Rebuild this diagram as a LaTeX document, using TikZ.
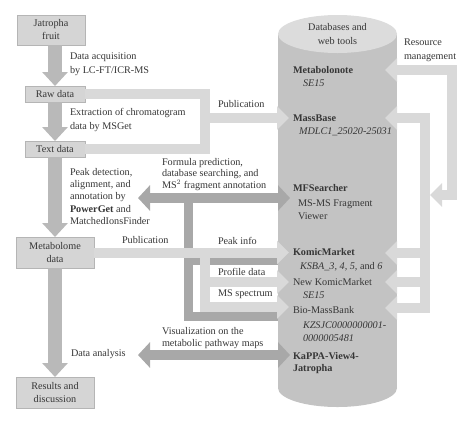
\documentclass[tikz,border=0pt]{standalone}
\usepackage{fontspec}
\setmainfont{Liberation Serif}
\usetikzlibrary{arrows.meta}
\definecolor{txt}{HTML}{363636}
\definecolor{boxfill}{HTML}{D5D5D5}
\definecolor{boxdraw}{HTML}{B5B5B5}
\definecolor{mainarr}{HTML}{B9B9B9}
\definecolor{cylbody}{HTML}{C3C3C3}
\definecolor{cylcap}{HTML}{DCDCDC}
\definecolor{lightc}{HTML}{D9D9D9}
\definecolor{darkc}{HTML}{A8A8A8}
\tikzset{
  stepbox/.style={draw=boxdraw, fill=boxfill, line width=0.8pt, inner sep=0pt, outer sep=0pt,
    align=center, text=txt, font=\fontsize{10.2}{13}\selectfont},
  lbl/.style={inner sep=0pt, outer sep=0pt, text=txt, align=left, anchor=west},
  fs/.style={font=\fontsize{10.2}{#1}\selectfont},
  mainarrow/.style={draw=mainarr, line width=14pt, arrows={-Triangle[length=14pt,width=25pt]}},
  lightband/.style={draw=lightc, line width=10pt, line join=miter},
  darkband/.style={draw=darkc, line width=10pt, line join=miter},
  ltip/.style={arrows={-Triangle[length=12pt,width=23pt]}},
  ltips/.style={arrows={Triangle[length=12pt,width=23pt]-Triangle[length=12pt,width=23pt]}},
  dtips/.style={arrows={Triangle[length=12pt,width=25pt]-Triangle[length=12pt,width=25pt]}},
}
\begin{document}
\begin{tikzpicture}[x=1pt,y=-1pt]
\useasboundingbox (0,0) rectangle (474,424);

% left boxes
\node[stepbox, minimum width=68pt, minimum height=30pt] (fruit) at (51,30) {Jatropha\\fruit};
\node[stepbox, minimum width=60pt, minimum height=16pt] (raw) at (55,94) {Raw data};
\node[stepbox, minimum width=60pt, minimum height=16pt] (text) at (55,149) {Text data};
\node[stepbox, minimum width=78pt, minimum height=31pt] (meta) at (55,252.5) {Metabolome\\data};
\node[stepbox, minimum width=78pt, minimum height=31pt] (results) at (55,392.5) {Results and\\discussion};

% connector coordinates
\coordinate (mbL) at (289,118);
\coordinate (kmL) at (289,252.5);
\coordinate (nkL) at (289,282);
\coordinate (bmL) at (289,307);
\coordinate (mfL) at (290,198);
\coordinate (kvL) at (290,355);
\coordinate (mfW) at (138,198);
\coordinate (kvW) at (138,355);
\coordinate (mnR) at (385,70);
\coordinate (mbR) at (385,118);
\coordinate (kmR) at (385,253);
\coordinate (nkR) at (385,282);
\coordinate (bmR) at (385,308);
\coordinate (pj1) at (205,94);
\coordinate (pj2) at (205,149);
\coordinate (pj3) at (205,118);
\coordinate (lj1) at (205,252);
\coordinate (lj2) at (205,307);
\coordinate (lj3) at (205,282);
\coordinate (dj1) at (188,198);
\coordinate (dj2) at (188,316);
\coordinate (dj3) at (188,261);
\coordinate (kmD) at (280,261);
\coordinate (bmD) at (280,316);
\coordinate (rj1) at (425,118);
\coordinate (rj2) at (425,308);
\coordinate (rj3) at (425,253);
\coordinate (rj4) at (425,282);
\coordinate (rm1) at (452,70);
\coordinate (rm2) at (452,195);
\coordinate (rmT) at (430,195);

% dark bars behind the cylinder
\draw[darkband, line width=9pt] (dj1) -- (dj2) -- (bmD);
\draw[darkband, line width=8pt] (dj3) -- (kmD);

% cylinder
\fill[cylbody] (278,34) rectangle (397,388);
\fill[cylbody] (337.5,388) ellipse [x radius=59.5, y radius=19];
\fill[cylcap] (337.5,34) ellipse [x radius=59.5, y radius=19];

% light connectors
\draw[lightband] (raw.east) -- (pj1) -- (pj2) -- (text.east);
\draw[lightband, ltip] (pj3) -- (mbL);
\draw[lightband, ltip] (meta.east) -- (kmL);
\draw[lightband, ltip] (lj1) -- (lj2) -- (bmL);
\draw[lightband, ltip] (lj3) -- (nkL);
\draw[lightband, ltips] (mbR) -- (rj1) -- (rj2) -- (bmR);
\draw[lightband, ltip] (rj3) -- (kmR);
\draw[lightband, ltip] (rj4) -- (nkR);
\draw[lightband, ltips] (mnR) -- (rm1) -- (rm2) -- (rmT);

% dark double arrows
\draw[darkband, dtips] (mfW) -- (mfL);
\draw[darkband, dtips] (kvW) -- (kvL);

% main vertical arrows
\draw[mainarrow] (fruit.south -| raw.north) -- (raw.north);
\draw[mainarrow] (raw.south) -- (text.north);
\draw[mainarrow] (text.south) -- (meta.north);
\draw[mainarrow] (meta.south) -- (results.north);

% left labels
\node[lbl, fs=14] (acq) at (70,64) {Data acquisition\\by LC-FT/ICR-MS};
\node[lbl, fs=13.5] (extr) at (70,120) {Extraction of chromatogram\\data by MSGet};
\node[lbl, fs=12.3] (peak) at (70,196.5) {Peak detection,\\alignment, and\\annotation by\\\textbf{PowerGet} and\\MatchedIonsFinder};
\node[lbl, fs=13] (pub1) at (122,240.5) {Publication};
\node[lbl, fs=13] (analysis) at (71,354) {Data analysis};
\node[lbl, fs=13] (pub2) at (218,104.5) {Publication};
\node[lbl, fs=11.5] (formula) at (162,174.5) {Formula prediction,\\database searching, and\\MS$^2$ fragment annotation};
\node[lbl, fs=13] (peakinfo) at (218,241) {Peak info};
\node[lbl, fs=13] (profile) at (218,272) {Profile data};
\node[lbl, fs=13] (msspec) at (218,294) {MS spectrum};
\node[lbl, fs=11.5] (visual) at (162,338) {Visualization on the\\metabolic pathway maps};
\node[lbl, fs=14] (resource) at (404,50.5) {Resource\\management};

% cylinder texts
\node[inner sep=0pt, align=center, text=txt, fs=14] (dbtitle) at (337.5,34.5) {Databases and\\web tools};
\node[lbl, fs=13] (metabolonote) at (293,70) {\textbf{Metabolonote}};
\node[lbl, fs=13] (se15a) at (303,83) {\textit{SE15}};
\node[lbl, fs=13] (massbase) at (293,118) {\textbf{MassBase}};
\node[lbl, fs=13] (mdlc) at (299,132) {\textit{MDLC1\_25020-25031}};
\node[lbl, fs=13] (mfsearcher) at (293,188) {\textbf{MFSearcher}};
\node[lbl, fs=12.5] (msms) at (298,209.5) {MS-MS Fragment\\Viewer};
\node[lbl, fs=13] (komic) at (293,252) {\textbf{KomicMarket}};
\node[lbl, fs=13] (ksba) at (300,267) {\textit{KSBA\_3, 4, 5,} and \textit{6}};
\node[lbl, fs=13] (newkomic) at (293,282) {New KomicMarket};
\node[lbl, fs=13] (se15b) at (303,295) {\textit{SE15}};
\node[lbl, fs=13] (biomass) at (293,310) {Bio-MassBank};
\node[lbl, fs=12.5] (kzsjc) at (303,331.5) {\textit{KZSJC0000000001-}\\\textit{0000005481}};
\node[lbl, fs=12.5] (kappa) at (293,363) {\textbf{KaPPA-View4-}\\\textbf{Jatropha}};
\end{tikzpicture}
\end{document}
